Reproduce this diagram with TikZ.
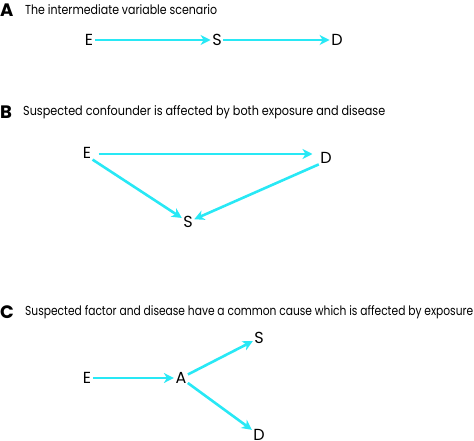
\documentclass[tikz,border=0pt]{standalone}
\usepackage{fontspec}
\setmainfont{Poppins}
\usetikzlibrary{arrows.meta}
\definecolor{arrowcyan}{RGB}{40,232,245}
\newcommand{\squeezeto}[2]{\resizebox{#1pt}{\height}{#2}}
\tikzset{
  x=1pt, y=-1pt,
  var/.style={inner sep=0pt, font=\fontsize{16}{18}\selectfont},
  title/.style={anchor=west, inner sep=0pt, font=\fontsize{13}{15}\selectfont},
  panel/.style={anchor=west, inner sep=0pt, font=\fontsize{18}{20}\selectfont\bfseries},
  link/.style={draw=arrowcyan, line width=2.6pt, -{Stealth[length=10pt,width=10pt,inset=3pt]}, shorten >=1.5pt, shorten <=1.5pt}
}
\begin{document}
\begin{tikzpicture}
\useasboundingbox (0,0) rectangle (474,441);
% Panel A
\node[panel] (pA) at (0,10) {A};
\node[title] (tA) at (25,10) {\squeezeto{192}{The intermediate variable scenario}};
\node[var] (aE) at (89,40) {E};
\node[var] (aS) at (217,40) {S};
\node[var] (aD) at (337,40) {D};
\draw[link] (aE) -- (aS);
\draw[link] (aS) -- (aD);
% Panel B
\node[panel] (pB) at (0,112) {B};
\node[title] (tB) at (23,112) {\squeezeto{362}{Suspected confounder is affected by both exposure and disease}};
\node[var] (bE) at (87,153) {E};
\node[var] (bD) at (326,158) {D};
\node[var] (bS) at (188,222) {S};
\coordinate (bE1) at (97,154);
\coordinate (bD1) at (314,154);
\draw[link] (bE1) -- (bD1);
\draw[link] (bE.south east) -- (bS);
\draw[link] (bD.south west) -- (bS);
% Panel C
\node[panel] (pC) at (0,312) {C};
\node[title] (tC) at (25,312) {\squeezeto{448}{Suspected factor and disease have a common cause which is affected by exposure}};
\node[var] (cE) at (87,378) {E};
\node[var] (cA) at (181,378) {A};
\node[var] (cS) at (259,338) {S};
\node[var] (cD) at (259,435) {D};
\draw[link] (cE) -- (cA);
\draw[link] (cA) -- (cS);
\draw[link] (cA) -- (cD);
\end{tikzpicture}
\end{document}
